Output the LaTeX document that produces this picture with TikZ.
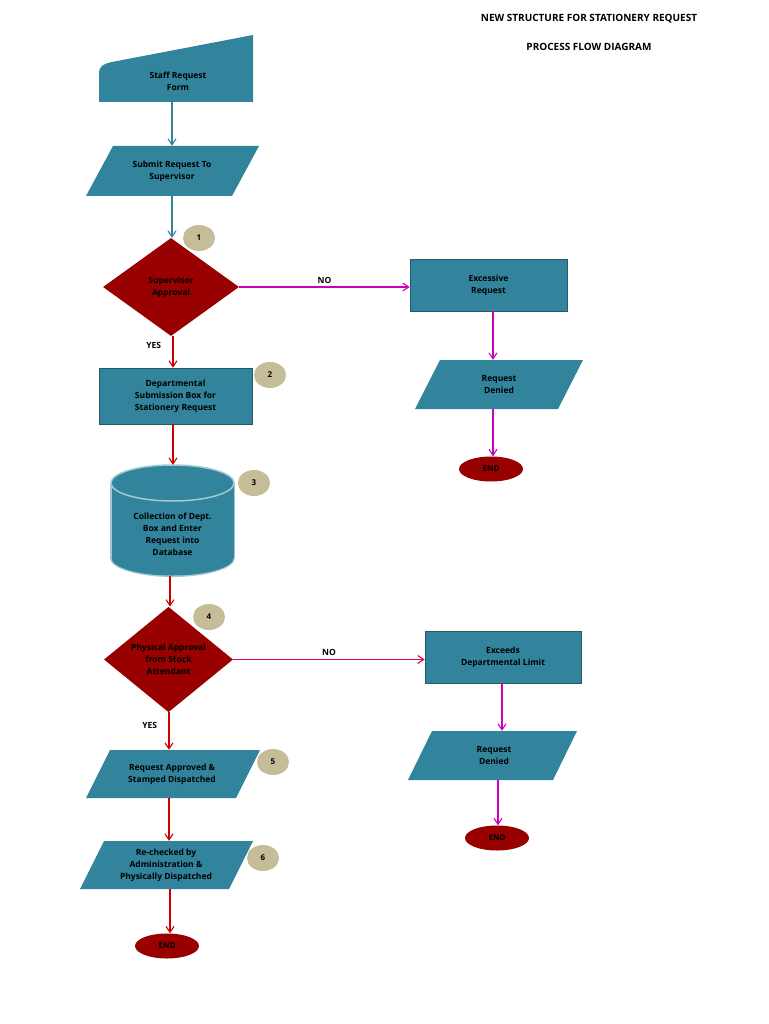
\documentclass[tikz,border=0pt]{standalone}
\usepackage{fontspec}
\setmainfont{Open Sans}
\usetikzlibrary{arrows.meta,shapes.geometric}
\definecolor{teal}{HTML}{31849B}
\definecolor{dred}{HTML}{990000}
\definecolor{rline}{HTML}{CC0000}
\definecolor{mag}{HTML}{CC00BB}
\definecolor{pinkr}{HTML}{E8005A}
\definecolor{tan}{HTML}{C4BD97}
\tikzset{
  txt/.style={font=\fontsize{8.5}{12}\selectfont\bfseries, align=center, text=black},
  area/.style={inner sep=0pt, txt},
  badge/.style={ellipse, fill=tan, minimum width=32pt, minimum height=26pt, inner sep=0pt, font=\fontsize{8}{9}\selectfont\bfseries},
  endn/.style={ellipse, fill=dred, minimum width=64pt, minimum height=25pt, inner sep=0pt, font=\fontsize{8}{9}\selectfont\bfseries},
  dia/.style={diamond, fill=dred, inner sep=0pt, txt},
  box/.style={fill=teal, draw=teal!70!black, line width=0.6pt, inner sep=0pt, txt},
  arr/.style={-{Straight Barb[length=6pt,width=8pt]}, line width=1.1pt},
  lab/.style={font=\fontsize{8.5}{10}\selectfont\bfseries}
}
\begin{document}
\begin{tikzpicture}[x=1pt,y=-1pt]
\useasboundingbox[fill=white] (0,0) rectangle (768,1024);
% title
\node[lab,font=\fontsize{10}{12}\selectfont\bfseries] (t1) at (589,19) {NEW STRUCTURE FOR STATIONERY REQUEST};
\node[lab,font=\fontsize{10}{12}\selectfont\bfseries] (t2) at (589,47) {PROCESS FLOW DIAGRAM};
% staff request form (manual input)
\fill[teal] (99,102) -- (99,74) .. controls (99,66) and (103,64) .. (112,62) -- (253,35) -- (253,102) -- cycle;
\node[area, minimum width=154pt, minimum height=67pt] (s1) at (176,68.5) {};
\node[txt] at (178,81) {Staff Request\\Form};
% submit
\fill[teal] (113,146) -- (259,146) -- (232,196) -- (86,196) -- cycle;
\node[area, minimum width=150pt, minimum height=50pt] (s2) at (172,171) {Submit Request To\\Supervisor};
% diamond 1
\node[dia, minimum width=136pt, minimum height=98pt] (d1) at (171,287) {Supervisor\\Approval};
\node[badge] (b1) at (199,238) {1};
% excessive
\node[box, minimum width=157pt, minimum height=52pt] (e1) at (488.5,285) {Excessive\\Request};
\fill[teal] (440,360) -- (583,360) -- (558,409) -- (415,409) -- cycle;
\node[area, minimum width=140pt, minimum height=49pt] (rd1) at (499,384.5) {Request\\Denied};
\node[endn] (end1) at (491,469) {END};
% dept box
\node[box, minimum width=153pt, minimum height=56pt] (db) at (175.5,396) {Departmental\\Submission Box for\\Stationery Request};
\node[badge] (b2) at (270,375) {2};
% cylinder
\fill[teal!45!white] (172.5,558) ellipse[x radius=62.5, y radius=19];
\fill[teal!45!white] (110,483) rectangle (235,558);
\fill[teal] (172.5,558) ellipse[x radius=61, y radius=17.5];
\fill[teal] (111.5,483) rectangle (233.5,558);
\draw[teal!45!white, line width=1.5pt, fill=teal] (172.5,483) ellipse[x radius=61.5, y radius=18];
\node[area, minimum width=123pt, minimum height=111pt] (cy) at (172.5,520.5) {};
\node[txt] at (172.5,534) {Collection of Dept.\\Box and Enter\\Request into\\Database};
\node[badge] (b3) at (254,483) {3};
% diamond 4
\node[dia, minimum width=129pt, minimum height=93pt] (d4) at (168.5,659.5) {Physical Approval\\from Stock\\Attendant};
\node[badge] (b4) at (209,617) {4};
% exceeds
\node[box, minimum width=156pt, minimum height=52pt] (e2) at (503,657) {Exceeds\\Departmental Limit};
\fill[teal] (432,731) -- (577,731) -- (553,780) -- (408,780) -- cycle;
\node[area, minimum width=140pt, minimum height=49pt] (rd2) at (494,755.5) {Request\\Denied};
\node[endn] (end2) at (497,838) {END};
% approved
\fill[teal] (110,750) -- (260,750) -- (236,798) -- (86,798) -- cycle;
\node[area, minimum width=150pt, minimum height=48pt] (ap) at (172,774) {Request Approved \&\\Stamped Dispatched};
\node[badge] (b5) at (273,762) {5};
% rechecked
\fill[teal] (104,841) -- (253,841) -- (229,889) -- (80,889) -- cycle;
\node[area, minimum width=150pt, minimum height=48pt] (rc) at (166,865) {Re-checked by\\Administration \&\\Physically Dispatched};
\node[badge] (b6) at (263,858) {6};
\node[endn] (end3) at (167,946) {END};
% connectors
\draw[arr, teal] (s1.south -| 172,0) -- (s2.north -| 172,0);
\draw[arr, teal] (s2.south -| 172,0) -- (d1.north -| 172,0);
\draw[arr, mag] (d1.east) -- (e1.west |- d1.east) node[lab, midway, above, text=black] {NO};
\draw[arr, rline] (d1.south -| 173,0) -- (db.north -| 173,0) node[lab, pos=0.3, left=8pt, text=black] {YES};
\draw[arr, rline] (db.south -| 173,0) -- (cy.north -| 173,0);
\draw[arr, rline] (cy.south -| 170,0) -- (d4.north -| 170,0);
\draw[arr, pinkr] (d4.east) -- (e2.west |- d4.east) node[lab, midway, above, text=black] {NO};
\draw[arr, rline] (d4.south -| 169,0) -- (ap.north -| 169,0) node[lab, pos=0.35, left=8pt, text=black] {YES};
\draw[arr, rline] (ap.south -| 169,0) -- (rc.north -| 169,0);
\draw[arr, rline] (rc.south -| 170,0) -- (end3.north -| 170,0);
\draw[arr, mag] (e1.south -| 493,0) -- (rd1.north -| 493,0);
\draw[arr, mag] (rd1.south -| 493,0) -- (end1.north -| 493,0);
\draw[arr, mag] (e2.south -| 502,0) -- (rd2.north -| 502,0);
\draw[arr, mag] (rd2.south -| 498,0) -- (end2.north -| 498,0);
\end{tikzpicture}
\end{document}
